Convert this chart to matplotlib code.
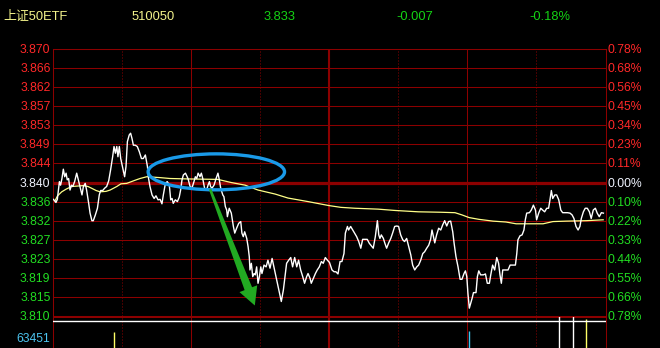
import matplotlib
matplotlib.use("Agg")
import matplotlib.pyplot as plt
import numpy as np
from matplotlib.patches import Ellipse, Polygon

plt.rcParams["font.family"] = ["Liberation Sans", "Noto Sans CJK SC", "DejaVu Sans"]

W, H = 660, 348

# header
NAME = "上证50ETF"
CODE = "510050"
LAST = "3.833"
CHANGE = "-0.007"
CHANGE_PCT = "-0.18%"

PRICE_LO, PRICE_HI = 3.810, 3.870
LEFT_LABELS = ["3.810", "3.815", "3.819", "3.823", "3.827", "3.832", "3.836", "3.840",
               "3.844", "3.849", "3.853", "3.857", "3.862", "3.866", "3.870"]
RIGHT_LABELS = ["0.78%", "0.66%", "0.55%", "0.44%", "0.33%", "0.22%", "0.10%", "0.00%",
                "0.11%", "0.23%", "0.34%", "0.45%", "0.56%", "0.68%", "0.78%"]
VOL_LABEL = "63451"

# minute line (minutes after 9:30, lunch break folded out)
minute = [0.4, 1.5, 2.1, 3.0, 3.5, 4.1, 4.7, 5.3, 5.9, 6.4, 7.0, 7.6, 8.2, 8.8, 9.6,
          10.5, 11.4, 11.9, 12.8, 13.4, 14.2, 14.8, 15.7, 16.3, 17.1, 17.7, 18.6, 19.5,
          20.3, 20.9, 21.8, 22.6, 23.5, 24.4, 25.2, 26.1, 26.7, 27.3, 27.9, 28.4, 29.0,
          29.6, 30.5, 31.3, 31.9, 32.5, 33.3, 33.9, 34.5, 35.1, 35.9, 36.8, 37.7, 38.6,
          39.4, 40.3, 41.2, 41.7, 42.3, 43.2, 44.1, 44.9, 45.8, 46.7, 47.5, 48.1, 49.0,
          49.8, 50.7, 51.3, 51.9, 52.4, 53.3, 54.2, 55.0, 55.6, 56.2, 56.8, 57.7, 58.8,
          59.7, 60.5, 61.4, 62.0, 62.6, 63.2, 64.0, 64.6, 65.2, 66.0, 66.9, 67.5, 68.1,
          68.6, 69.2, 70.1, 71.0, 71.8, 72.4, 73.0, 73.9, 74.4, 75.0, 75.6, 75.9, 76.7,
          77.6, 78.5, 79.1, 79.9, 80.8, 81.7, 82.2, 82.8, 83.4, 84.3, 84.9, 85.4, 85.7,
          86.3, 86.9, 87.5, 88.0, 88.6, 89.2, 89.8, 90.4, 90.9, 91.8, 92.7, 93.5, 94.4,
          95.3, 96.1, 96.7, 97.6, 98.5, 99.3, 100.2, 100.8, 101.6, 102.5, 103.4, 104.2,
          105.1, 106.0, 106.8, 107.7, 108.6, 109.4, 110.3, 110.9, 111.8, 112.3, 113.2,
          114.1, 114.9, 115.8, 116.7, 117.5, 118.4, 119.3, 120.2, 121.3, 122.2, 123.0,
          123.9, 124.8, 125.6, 126.5, 127.1, 128.0, 128.5, 129.4, 130.3, 131.1, 132.0,
          132.9, 133.8, 134.6, 135.5, 136.6, 137.5, 138.4, 139.2, 140.1, 141.0, 141.6,
          142.1, 142.7, 143.6, 144.2, 145.0, 145.9, 146.8, 147.6, 148.5, 149.4, 150.2,
          151.1, 152.0, 152.8, 153.7, 154.6, 155.5, 156.3, 157.2, 158.1, 158.9, 159.8,
          160.7, 161.5, 162.4, 163.3, 164.1, 164.7, 165.3, 165.9, 166.7, 167.6, 168.5,
          169.3, 170.2, 171.1, 171.9, 172.8, 173.7, 174.3, 175.1, 176.0, 176.9, 177.7,
          178.6, 179.2, 179.8, 180.3, 180.9, 181.5, 182.1, 182.7, 183.8, 184.4, 185.0,
          185.8, 187.0, 187.9, 188.7, 189.6, 190.2, 191.0, 191.9, 192.8, 193.6, 194.2,
          194.8, 195.4, 196.5, 197.7, 198.6, 200.9, 201.5, 202.0, 202.9, 203.8, 204.6,
          205.2, 205.8, 207.0, 207.8, 208.7, 209.6, 210.1, 211.0, 211.9, 212.7, 213.6,
          214.5, 215.3, 215.9, 216.5, 217.1, 218.0, 218.8, 219.7, 220.6, 221.4, 223.5,
          224.6, 225.5, 226.3, 227.2, 228.1, 228.9, 229.5, 230.4, 231.2, 232.1, 233.0,
          233.8, 234.7, 235.6, 236.4, 237.3, 238.2, 239.1]
price = [3.8362, 3.8355, 3.8362, 3.8402, 3.8394, 3.8409, 3.8430, 3.8413, 3.8421, 3.8406,
         3.8409, 3.8383, 3.8394, 3.8391, 3.8402, 3.8421, 3.8402, 3.8391, 3.8372, 3.8391,
         3.8398, 3.8383, 3.8353, 3.8331, 3.8314, 3.8314, 3.8327, 3.8342, 3.8372, 3.8382,
         3.8382, 3.8387, 3.8391, 3.8404, 3.8428, 3.8458, 3.8481, 3.8466, 3.8481, 3.8458,
         3.8481, 3.8454, 3.8432, 3.8413, 3.8436, 3.8492, 3.8507, 3.8511, 3.8499, 3.8484,
         3.8484, 3.8481, 3.8469, 3.8454, 3.8454, 3.8462, 3.8436, 3.8409, 3.8391, 3.8372,
         3.8364, 3.8370, 3.8361, 3.8362, 3.8352, 3.8372, 3.8398, 3.8402, 3.8394, 3.8361,
         3.8364, 3.8353, 3.8361, 3.8357, 3.8367, 3.8383, 3.8406, 3.8417, 3.8421, 3.8409,
         3.8391, 3.8387, 3.8402, 3.8413, 3.8409, 3.8421, 3.8413, 3.8421, 3.8409, 3.8387,
         3.8383, 3.8394, 3.8402, 3.8391, 3.8387, 3.8394, 3.8409, 3.8421, 3.8406, 3.8387,
         3.8372, 3.8368, 3.8346, 3.8338, 3.8323, 3.8342, 3.8331, 3.8301, 3.8286, 3.8297,
         3.8308, 3.8312, 3.8286, 3.8278, 3.8289, 3.8274, 3.8255, 3.8233, 3.8203, 3.8218,
         3.8188, 3.8195, 3.8192, 3.8210, 3.8173, 3.8188, 3.8210, 3.8195, 3.8214, 3.8210,
         3.8225, 3.8207, 3.8229, 3.8210, 3.8195, 3.8173, 3.8150, 3.8132, 3.8158, 3.8184,
         3.8218, 3.8225, 3.8231, 3.8210, 3.8231, 3.8210, 3.8225, 3.8203, 3.8188, 3.8173,
         3.8188, 3.8195, 3.8184, 3.8173, 3.8184, 3.8195, 3.8203, 3.8210, 3.8222, 3.8218,
         3.8231, 3.8225, 3.8220, 3.8203, 3.8199, 3.8199, 3.8194, 3.8222, 3.8222, 3.8240,
         3.8286, 3.8301, 3.8293, 3.8301, 3.8293, 3.8286, 3.8278, 3.8267, 3.8252, 3.8272,
         3.8272, 3.8272, 3.8263, 3.8257, 3.8252, 3.8278, 3.8314, 3.8282, 3.8274, 3.8282,
         3.8274, 3.8264, 3.8252, 3.8264, 3.8274, 3.8286, 3.8301, 3.8302, 3.8301, 3.8282,
         3.8271, 3.8267, 3.8274, 3.8255, 3.8237, 3.8214, 3.8203, 3.8210, 3.8214, 3.8225,
         3.8240, 3.8244, 3.8252, 3.8259, 3.8272, 3.8293, 3.8278, 3.8264, 3.8282, 3.8297,
         3.8293, 3.8304, 3.8314, 3.8302, 3.8312, 3.8313, 3.8289, 3.8263, 3.8233, 3.8210,
         3.8182, 3.8182, 3.8195, 3.8201, 3.8188, 3.8150, 3.8117, 3.8128, 3.8139, 3.8152,
         3.8152, 3.8188, 3.8201, 3.8192, 3.8192, 3.8194, 3.8173, 3.8173, 3.8192, 3.8214,
         3.8203, 3.8231, 3.8218, 3.8192, 3.8173, 3.8203, 3.8203, 3.8203, 3.8214, 3.8214,
         3.8240, 3.8271, 3.8280, 3.8282, 3.8293, 3.8316, 3.8331, 3.8332, 3.8338, 3.8349,
         3.8338, 3.8316, 3.8331, 3.8342, 3.8338, 3.8334, 3.8342, 3.8342, 3.8361, 3.8382,
         3.8364, 3.8372, 3.8372, 3.8361, 3.8338, 3.8332, 3.8332, 3.8331, 3.8327, 3.8319,
         3.8301, 3.8293, 3.8301, 3.8319, 3.8334, 3.8342, 3.8342, 3.8334, 3.8319, 3.8338,
         3.8342, 3.8331, 3.8323, 3.8332, 3.8331]

# average price line
avg_minute = [1.1, 2.2, 4.0, 5.9, 8.3, 13.4, 15.4, 17.0, 18.9, 20.6, 23.2, 25.0, 27.9,
              29.7, 32.2, 35.8, 38.0, 40.9, 46.7, 51.0, 58.8, 71.8, 77.5, 83.6, 89.2,
              96.6, 102.2, 110.9, 120.0, 125.2, 131.3, 141.3, 148.7, 158.7, 168.6, 174.7,
              177.7, 180.8, 185.1, 191.2, 196.8, 201.2, 212.9, 217.2, 222.9, 231.6, 239.0]
avg_price = [3.8359, 3.8370, 3.8379, 3.8385, 3.8391, 3.8393, 3.8391, 3.8387, 3.8382,
             3.8379, 3.8380, 3.8383, 3.8391, 3.8397, 3.8398, 3.8405, 3.8409, 3.8413,
             3.8411, 3.8409, 3.8408, 3.8407, 3.8400, 3.8394, 3.8383, 3.8374, 3.8365,
             3.8357, 3.8348, 3.8344, 3.8342, 3.8340, 3.8337, 3.8334, 3.8333, 3.8332,
             3.8327, 3.8321, 3.8317, 3.8313, 3.8311, 3.8307, 3.8307, 3.8312, 3.8313,
             3.8314, 3.8316]

# the few volume bars tall enough to show in the cropped volume pane
vol_minute = [26.8, 180.8, 219.7, 225.8, 231.7]
volume = [70400, 71300, 90000, 90000, 79200]
vol_color = ["#ffff66", "#40c8f0", "#ffffff", "#ffffff", "#ffff66"]

GRID = "#8c0000"
RED = "#ff2828"
GREEN = "#22dd22"
FS = 8.7


def px(x, y):
    return x / W, 1 - y / H


fig = plt.figure(figsize=(W / 100, H / 100), dpi=100, facecolor="black")

left, right, top, bot = 52.5, 605.5, 49.3, 315.7
ax = fig.add_axes([left / W, 1 - bot / H, (right - left) / W, (bot - top) / H])
axv = fig.add_axes([left / W, 1 - 440 / H, (right - left) / W, (440 - 317.3) / H])

for a in (ax, axv):
    a.set_facecolor("black")
    a.set_xlim(0, 240)
    a.set_xticks([])
    a.set_yticks([])
    for s in a.spines.values():
        s.set_color(GRID)
        s.set_linewidth(0.75)
    for t in (30, 90, 150, 210):
        a.axvline(t, color=GRID, lw=0.72, ls=(0, (1, 2)), zorder=1)
    for t in (60, 180):
        a.axvline(t, color=GRID, lw=0.75, zorder=1)
    a.axvline(120, color=GRID, lw=1.5, zorder=1)

ax.set_ylim(PRICE_LO, PRICE_HI)
levels = np.linspace(PRICE_LO, PRICE_HI, len(LEFT_LABELS))
mid = len(levels) // 2
for i, (lvl, ll, rl) in enumerate(zip(levels, LEFT_LABELS, RIGHT_LABELS)):
    if i == mid:
        ax.axhline(lvl, color=GRID, lw=2.3, zorder=1)
        col = "#f0f4ff"
    else:
        ax.axhline(lvl, color=GRID, lw=0.75, zorder=1)
        col = RED if i > mid else GREEN
    ax.annotate(ll, xy=(0, lvl), xycoords=ax.get_yaxis_transform(), xytext=(-2, -1),
                textcoords="offset pixels", ha="right", va="center", color=col,
                fontsize=FS, annotation_clip=False)
    ax.annotate(rl, xy=(1, lvl), xycoords=ax.get_yaxis_transform(), xytext=(2, -1),
                textcoords="offset pixels", ha="left", va="center", color=col,
                fontsize=FS, annotation_clip=False)

ax.plot(avg_minute, avg_price, color="#ffff88", lw=0.9, zorder=3)
ax.plot(minute, price, color="white", lw=1.0, zorder=4)

# volume pane (runs off the bottom of the picture)
axv.set_ylim(0, 80000)
axv.vlines(vol_minute, 0, volume, colors=vol_color, lw=1.0, zorder=3)
axv.plot([0, 1], [0.9674, 0.9674], transform=axv.transAxes, color="white", lw=1.0, zorder=4)
fig.text(*px(50.5, 339), VOL_LABEL, ha="right", va="center", color="#4cc4f0", fontsize=FS)

# annotations
ax.add_patch(Ellipse((71.1, 3.8424), width=59.2, height=0.0081, fill=False,
                     edgecolor="#1a9ae8", lw=2.4, zorder=6))


def tapered_arrow(a, tail, tip, w0, w1, hw, hl, color):
    T = a.transData.transform(tail)
    P = a.transData.transform(tip)
    u = (P - T) / np.hypot(*(P - T))
    n = np.array([-u[1], u[0]])
    B = P - u * hl
    pts = [T + n * w0 / 2, B + n * w1 / 2, B + n * hw / 2, P,
           B - n * hw / 2, B - n * w1 / 2, T - n * w0 / 2]
    a.add_patch(Polygon(a.transData.inverted().transform(pts), closed=True,
                        facecolor=color, edgecolor="none", zorder=7))


tapered_arrow(ax, (68.4, 3.8385), (87.8, 3.8123), 2.5, 8, 19, 18, "#22aa22")

# header
hdr = dict(va="center", fontsize=9.3)
fig.text(*px(3, 16.5), NAME, color="#f4f48c", **hdr)
fig.text(*px(131.7, 16.5), CODE, color="#f4f48c", **hdr)
fig.text(*px(264, 16.5), LAST, color="#14d214", **hdr)
fig.text(*px(396.7, 16.5), CHANGE, color="#14d214", **hdr)
fig.text(*px(529.3, 16.5), CHANGE_PCT, color="#14d214", **hdr)

fig.savefig("out.png", dpi=100, facecolor="black")
